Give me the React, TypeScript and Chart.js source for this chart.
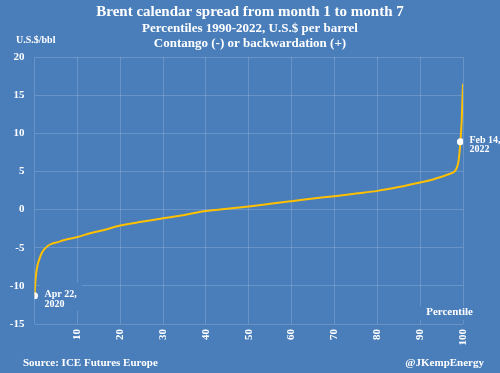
import React, { useEffect, useRef } from "react";
import { Chart, registerables } from "chart.js";

Chart.register(...registerables);

// Percentile (0-100) of daily Brent month1-month7 spread, 1990-2022
const percentiles = [
  0, 0.3, 0.7, 1.2, 1.7, 2.3, 3, 4, 5.2, 7, 10, 13, 16, 20, 25, 30, 35, 40, 45,
  50, 55, 60, 65, 70, 75, 80, 85, 90, 93, 95, 96.5, 97.5, 98.2, 98.7, 99, 99.4,
  99.7, 100,
];
const spreads = [
  -11.3, -8.8, -7.3, -6.4, -5.7, -5.2, -4.8, -4.5, -4.3, -4.0, -3.6, -3.1, -2.7,
  -2.1, -1.6, -1.15, -0.7, -0.2, 0.1, 0.4, 0.75, 1.1, 1.45, 1.75, 2.1, 2.45,
  2.95, 3.55, 3.95, 4.3, 4.6, 4.8, 5.1, 5.7, 6.5, 8.9, 11.7, 16.5,
];
const markerPercentiles = [0, 99.4];
const markerSpreads = [-11.3, 8.9];
const markerLabels = [
  ["Apr 22,", "2020"],
  ["Feb 14,", "2022"],
];
const xTickValues = [0, 10, 20, 30, 40, 50, 60, 70, 80, 90, 100];
const yTickValues = [-15, -10, -5, 0, 5, 10, 15, 20];

const titleLines = [
  "Brent calendar spread from month 1 to month 7",
  "Percentiles 1990-2022, U.S.$ per barrel",
  "Contango (-) or backwardation (+)",
];
const yUnit = "U.S.$/bbl";
const xTitle = "Percentile";
const sourceText = "Source: ICE Futures Europe";
const creditText = "@JKempEnergy";

const BG = "#4A7EBB";
const LINE = "#FFC000";
const GRID = "rgba(255,255,255,0.17)";
const FONT = "'Liberation Serif', 'Times New Roman', serif";

export default function App() {
  const ref = useRef<HTMLCanvasElement>(null);

  useEffect(() => {
    const canvas = ref.current;
    if (!canvas) return;

    const overlay = {
      id: "overlay",
      beforeDraw(chart: any) {
        const ctx = chart.ctx;
        ctx.save();
        ctx.fillStyle = BG;
        ctx.fillRect(0, 0, chart.width, chart.height);
        ctx.restore();
      },
      beforeDatasetsDraw(chart: any) {
        // label boxes that hide grid lines
        const ctx = chart.ctx;
        const xs = chart.scales.x;
        const ys = chart.scales.y;
        ctx.save();
        ctx.fillStyle = BG;
        const ax = xs.getPixelForValue(markerPercentiles[0]);
        const ay = ys.getPixelForValue(markerSpreads[0]);
        ctx.fillRect(ax + 5, ay - 13, 42, 28);
        ctx.fillRect(chart.chartArea.right - 44, chart.chartArea.bottom - 18, 60, 14);
        ctx.restore();
      },
      afterDraw(chart: any) {
        const ctx = chart.ctx;
        const xs = chart.scales.x;
        const ys = chart.scales.y;
        const W = chart.width;
        ctx.save();
        ctx.fillStyle = "#ffffff";
        ctx.textBaseline = "alphabetic";
        ctx.textAlign = "center";
        ctx.font = `bold 15px ${FONT}`;
        ctx.fillText(titleLines[0], W / 2, 16);
        ctx.font = `bold 13px ${FONT}`;
        ctx.fillText(titleLines[1], W / 2, 31.5);
        ctx.fillText(titleLines[2], W / 2, 47);

        ctx.textAlign = "left";
        ctx.font = `bold 10px ${FONT}`;
        ctx.fillText(yUnit, 16, 43);

        ctx.font = `bold 11px ${FONT}`;
        ctx.fillText(sourceText, 23, 366);
        ctx.textAlign = "right";
        ctx.fillText(creditText, 484, 366);
        ctx.fillText(xTitle, 473, 315);

        ctx.textAlign = "left";
        ctx.font = `bold 10px ${FONT}`;
        const p0x = xs.getPixelForValue(markerPercentiles[0]);
        const p0y = ys.getPixelForValue(markerSpreads[0]);
        ctx.fillText(markerLabels[0][0], p0x + 10, p0y + 1);
        ctx.fillText(markerLabels[0][1], p0x + 10, p0y + 11);
        const p1x = xs.getPixelForValue(markerPercentiles[1]);
        const p1y = ys.getPixelForValue(markerSpreads[1]);
        ctx.fillText(markerLabels[1][0], p1x + 9, p1y + 1);
        ctx.fillText(markerLabels[1][1], p1x + 9, p1y + 10);
        ctx.restore();
      },
    };

    const curve = percentiles.map((p, i) => ({ x: p, y: spreads[i] }));
    const markers = markerPercentiles.map((p, i) => ({ x: p, y: markerSpreads[i] }));

    const tickFont = { family: FONT, size: 11, weight: "bold" as const };

    const chart = new Chart(canvas, {
      type: "scatter",
      data: {
        datasets: [
          {
            data: markers,
            showLine: false,
            pointRadius: 3.5,
            pointBackgroundColor: "#ffffff",
            pointBorderColor: "#ffffff",
            pointBorderWidth: 0,
            order: 0,
          },
          {
            data: curve,
            showLine: true,
            borderColor: LINE,
            borderWidth: 2,
            pointRadius: 0,
            cubicInterpolationMode: "monotone",
            order: 1,
          } as any,
        ],
      },
      options: {
        responsive: false,
        animation: false,
        events: [],
        layout: { padding: { top: 57, right: 37, left: 0, bottom: 0 } },
        plugins: {
          legend: { display: false },
          tooltip: { enabled: false },
          title: { display: false },
        },
        scales: {
          x: {
            type: "linear",
            min: 0,
            max: 100,
            afterBuildTicks: (s: any) => {
              s.ticks = xTickValues.map((v) => ({ value: v }));
            },
            ticks: {
              autoSkip: false,
              minRotation: 90,
              maxRotation: 90,
              color: "#ffffff",
              font: tickFont,
              padding: 5,
              callback: (v: any) => (v === 0 ? "" : String(v)),
            },
            grid: { color: GRID, drawTicks: false, lineWidth: 1 },
            border: { display: false },
            afterFit: (s: any) => {
              s.height = 49;
            },
          },
          y: {
            type: "linear",
            min: -15,
            max: 20,
            afterBuildTicks: (s: any) => {
              s.ticks = yTickValues.map((v) => ({ value: v }));
            },
            ticks: {
              color: "#ffffff",
              font: tickFont,
              padding: 10,
            },
            grid: { color: GRID, drawTicks: false, lineWidth: 1 },
            border: { display: false },
            afterFit: (s: any) => {
              s.width = 34.5;
            },
          },
        },
      },
      plugins: [overlay],
    });

    return () => chart.destroy();
  }, []);

  return (
    <div
      style={{
        position: "fixed",
        left: 0,
        top: 0,
        width: 500,
        height: 373,
        background: BG,
      }}
    >
      <canvas ref={ref} width={500} height={373} style={{ display: "block" }} />
    </div>
  );
}
